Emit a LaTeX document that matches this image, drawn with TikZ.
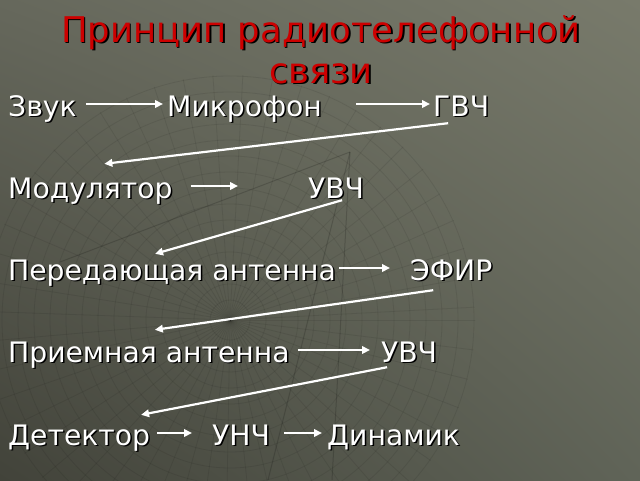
\documentclass[tikz,border=0pt]{standalone}
\usepackage{fontspec}
\setmainfont{DejaVu Sans}
\usetikzlibrary{arrows.meta,shadings}

\definecolor{bgul}{RGB}{102,104,92}
\definecolor{bgur}{RGB}{120,122,107}
\definecolor{bgll}{RGB}{66,67,58}
\definecolor{bglr}{RGB}{96,100,88}
\definecolor{titlered}{RGB}{205,0,0}

% text with a dark drop shadow
\newcommand{\shadowtxt}[1]{\rlap{\kern1.5pt\raisebox{-1.5pt}{\textcolor{black}{#1}}}#1}

\tikzset{
	word/.style={anchor=base west, inner sep=0pt, text height=24pt, text depth=0pt,
		text=white, font=\fontsize{28.2}{31}\selectfont},
	headline/.style={anchor=base, inner sep=0pt, text=titlered,
		font=\fontsize{35.4}{40}\selectfont},
	flow/.style={white, line width=2.2pt, -{Triangle[length=8pt,width=7.5pt]}},
}

\begin{document}
\begin{tikzpicture}[x=1pt, y=-1pt]
	\useasboundingbox (0,0) rectangle (640,480);
	\shade[upper left=bgul, upper right=bgur, lower left=bgll, lower right=bglr] (0,0) rectangle (640,480);

	% faint dish grid in the background
	\begin{scope}[black, opacity=0.08, line width=0.8pt]
		\clip (230,320) circle (245);
		\foreach \r in {20,36,...,250} \draw (230,320) circle (\r);
		\foreach \a in {0,7,...,359} \draw (230,320) -- ++(\a:260);
	\end{scope}
	\begin{scope}[black, opacity=0.16, line width=1pt]
		\draw (350,152) -- (332,480);
		\draw (350,152) -- (60,262);
		\draw (350,152) -- (268,480);
	\end{scope}

	% title
	\node[headline] (title1) at (321,42) {\shadowtxt{Принцип радиотелефонной}};
	\node[headline] (title2) at (321,83) {\shadowtxt{связи}};

	% row 1
	\node[word] (zvuk) at (8,116) {\shadowtxt{Звук}};
	\node[word] (mikro) at (167,116) {\shadowtxt{Микрофон}};
	\node[word] (gvch) at (433,116) {\shadowtxt{ГВЧ}};
	% row 2
	\node[word] (modul) at (8,198) {\shadowtxt{Модулятор}};
	\node[word] (uvch) at (308,198) {\shadowtxt{УВЧ}};
	% row 3
	\node[word] (peredat) at (8,280) {\shadowtxt{Передающая антенна}};
	\node[word] (efir) at (410,280) {\shadowtxt{ЭФИР}};
	% row 4
	\node[word] (priem) at (8,362) {\shadowtxt{Приемная антенна}};
	\node[word] (uvchb) at (381,362) {\shadowtxt{УВЧ}};
	% row 5
	\node[word] (detekt) at (8,445) {\shadowtxt{Детектор}};
	\node[word] (unch) at (212,445) {\shadowtxt{УНЧ}};
	\node[word] (dinamik) at (327,445) {\shadowtxt{Динамик}};

	% arrows along the rows
	\draw[flow, shorten <=9pt, shorten >=4pt] (zvuk.east) -- (mikro.west);
	\draw[flow, shorten <=34pt, shorten >=3pt] (mikro.east) -- (gvch.west);
	\draw[flow, shorten <=18pt, shorten >=70pt] (modul.east) -- (uvch.west);
	\draw[flow, shorten <=3pt, shorten >=20pt] (peredat.east) -- (efir.west);
	\draw[flow, shorten <=8pt, shorten >=11pt] (priem.east) -- (uvchb.west);
	\draw[flow, shorten <=7pt, shorten >=20pt] (detekt.east) -- (unch.west);
	\draw[flow, shorten <=14pt, shorten >=5pt] (unch.east) -- (dinamik.west);

	% arrows back to the next row
	\draw[flow] ([shift={(-13,7)}]gvch.south) -- ([shift={(14,-10)}]modul.north);
	\draw[flow] ([shift={(6,2)}]uvch.south) -- ([shift={(-17,-2)}]peredat.north);
	\draw[flow] ([shift={(-18,10)}]efir.south) -- ([shift={(6,-8)}]priem.north);
	\draw[flow] ([shift={(-22,5)}]uvchb.south) -- ([shift={(62,-6)}]detekt.north);
\end{tikzpicture}
\end{document}
